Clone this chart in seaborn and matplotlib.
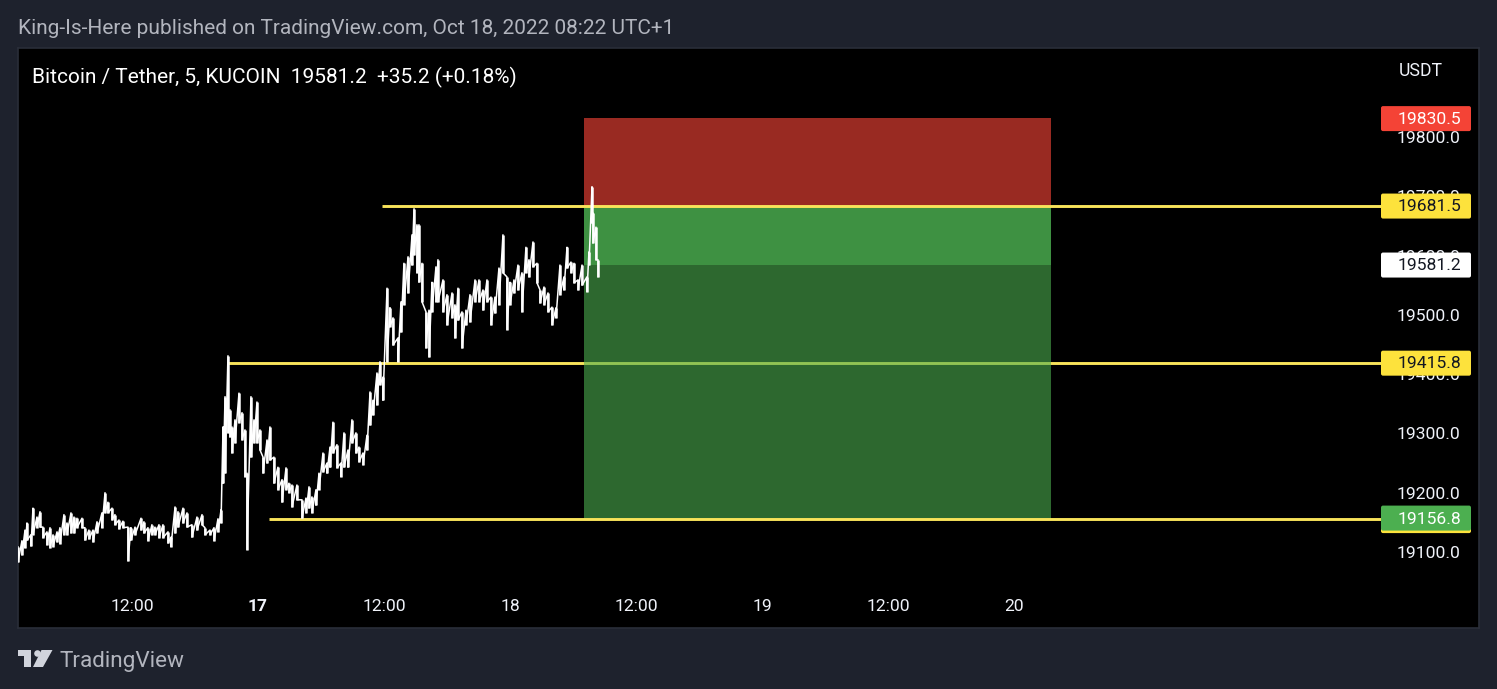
"""
plot.py
BTC/USDT 5m chart with short position box and horizontal levels
"""
import numpy as np
import pandas as pd
import matplotlib
matplotlib.use('Agg')
import matplotlib.pyplot as plt
from matplotlib.patches import FancyBboxPatch, Polygon, Circle, Rectangle
from matplotlib.transforms import IdentityTransform
import seaborn as sns

# hours relative to Oct 17 00:00
HOURS = [-22.86, -22.48, -22.19, -22.0, -21.62, -21.43, -21.05, -20.76, -20.48, -20.1, -19.81, -19.52,
         -19.14, -18.86, -18.48, -18.19, -17.81, -17.52, -17.24, -16.76, -16.48, -16.1, -15.71, -15.33,
         -14.86, -14.57, -14.29, -13.9, -13.62, -13.24, -12.86, -12.38, -12.1, -11.71, -11.14, -10.86,
         -10.48, -10.1, -9.81, -9.43, -9.05, -8.57, -8.29, -7.9, -7.62, -7.14, -6.76, -6.29, -5.81, -5.33,
         -5.05, -4.57, -4.19, -3.81, -3.52, -3.33, -3.14, -2.86, -2.67, -2.48, -2.19, -1.81, -1.52, -1.24,
         -1.05, -0.67, -0.38, -0.1, 0.19, 0.48, 0.86, 1.14, 1.52, 1.9, 2.29, 2.67, 2.95, 3.24, 3.71, 4.19,
         4.57, 4.86, 5.14, 5.52, 5.81, 6.19, 6.57, 6.86, 7.14, 7.52, 7.9, 8.19, 8.57, 8.95, 9.33, 9.62,
         10.0, 10.38, 10.67, 10.95, 11.33, 11.62, 11.9, 12.29, 12.57, 12.86, 13.33, 13.62, 13.9, 14.29,
         14.67, 14.86, 15.14, 15.33, 15.62, 16.0, 16.29, 16.57, 16.95, 17.14, 17.62, 18.0, 18.48, 18.76,
         19.05, 19.43, 19.81, 20.19, 20.67, 21.05, 21.43, 21.81, 22.19, 22.57, 22.95, 23.33, 23.71, 24.0,
         24.38, 24.76, 25.14, 25.52, 25.81, 26.19, 26.57, 26.86, 27.24, 27.62, 28.0, 28.38, 28.76, 29.14,
         29.43, 29.81, 30.1, 30.48, 30.86, 31.33, 31.52, 31.81, 31.9, 32.19, 32.38]
HIGHS = [19109, 19119, 19137, 19149, 19129, 19174, 19159, 19168, 19142, 19134, 19141, 19129,
         19134, 19141, 19163, 19149, 19166, 19159, 19157, 19157, 19141, 19137, 19137, 19151,
         19166, 19200, 19184, 19174, 19163, 19154, 19152, 19142, 19141, 19142, 19157, 19151,
         19141, 19146, 19142, 19146, 19146, 19134, 19125, 19176, 19168, 19174, 19166, 19146, 19159, 19163,
         19141, 19137, 19141, 19156, 19171, 19311, 19362, 19431, 19340, 19311, 19323, 19368, 19335, 19306,
         19233, 19362, 19323, 19353, 19306, 19260, 19289, 19311, 19260, 19243, 19222, 19242, 19216, 19213,
         19213, 19188, 19191, 19210, 19193, 19205, 19233, 19267, 19250, 19277, 19319, 19281, 19250, 19301,
         19272, 19323, 19301, 19277, 19267, 19297, 19370, 19356, 19402, 19421, 19395, 19545, 19512, 19495,
         19461, 19522, 19587, 19598, 19635, 19679, 19652, 19652, 19587, 19505, 19508, 19555, 19581, 19593,
         19559, 19534, 19537, 19517, 19545, 19505, 19508, 19534, 19559, 19559, 19542, 19559, 19530, 19530,
         19579, 19635, 19564, 19555, 19559, 19584, 19571, 19614, 19593, 19623, 19587, 19542, 19547, 19537,
         19513, 19512, 19584, 19564, 19614, 19589, 19587, 19559, 19584, 19564, 19606, 19716, 19672, 19648,
         19593]
LOWS = [19083, 19095, 19107, 19120, 19110, 19129, 19141, 19142, 19124, 19112, 19107, 19109,
        19117, 19114, 19129, 19129, 19132, 19132, 19141, 19141, 19120, 19122, 19117, 19132,
        19141, 19166, 19166, 19154, 19146, 19139, 19141, 19085, 19120, 19129, 19137, 19132,
        19119, 19129, 19129, 19124, 19124, 19115, 19109, 19132, 19142, 19149, 19142, 19125, 19137, 19146,
        19129, 19129, 19119, 19134, 19149, 19216, 19233, 19301, 19294, 19267, 19284, 19318, 19289, 19227,
        19104, 19260, 19284, 19284, 19272, 19233, 19250, 19255, 19216, 19205, 19184, 19205, 19200, 19176,
        19188, 19157, 19166, 19174, 19166, 19179, 19205, 19235, 19233, 19243, 19267, 19242, 19227, 19243,
        19243, 19284, 19267, 19252, 19247, 19272, 19314, 19331, 19348, 19382, 19356, 19421, 19480, 19449,
        19421, 19471, 19517, 19537, 19584, 19601, 19571, 19555, 19522, 19444, 19429, 19505, 19522, 19522,
        19505, 19483, 19495, 19461, 19491, 19444, 19483, 19488, 19522, 19522, 19508, 19522, 19483, 19503,
        19517, 19571, 19475, 19517, 19537, 19542, 19505, 19571, 19564, 19581, 19554, 19520, 19517, 19505,
        19483, 19495, 19534, 19542, 19579, 19571, 19554, 19542, 19550, 19539, 19584, 19655, 19621, 19593,
        19564]

Y_TICKS = [19100.0, 19200.0, 19300.0, 19400.0, 19500.0, 19600.0, 19700.0, 19800.0]
X_TICKS = [-12, 0, 12, 24, 36, 48, 60, 72]
X_LABELS = ['12:00', '17', '12:00', '18', '12:00', '19', '12:00', '20']

# label values as printed on the tags
STOP = 19830.5
ENTRY = 19681.5
LAST = 19581.2
MID = 19415.8
TARGET = 19156.8
# the tags and lines do not sit exactly on the tick scale in the picture, so read their heights too
STOP_Y = 19831.0
ENTRY_Y = 19683.5
LAST_Y = 19584.0
MID_Y = 19418.5
TARGET_Y = 19155.5
BOX_START, BOX_END = 31.05, 75.52

BG = '#1e222d'
YELLOW_LINE = '#f8e35a'

sns.set_theme(style='dark', rc={'axes.facecolor': 'black', 'figure.facecolor': BG})
plt.rcParams['font.family'] = ['Roboto', 'DejaVu Sans']

W, H = 1497, 689
fig = plt.figure(figsize=(W / 100, H / 100), dpi=100)
# pane is px 18-1479 / 48-628
ax = fig.add_axes([18 / W, 1 - 628 / H, 1461 / W, 580 / H])
ax.set_xlim(-22.857, 116.286)
ax.set_ylim(18971.8, 19950.1)

# ---- position box ----
ax.fill_between([BOX_START, BOX_END], ENTRY_Y, STOP_Y + 1, color='#f44336', alpha=0.63, lw=0, zorder=3)
ax.fill_between([BOX_START, BOX_END], LAST_Y, ENTRY_Y, color='#4caf50', alpha=0.83, lw=0, zorder=3)
ax.fill_between([BOX_START, BOX_END], TARGET_Y, LAST_Y, color='#4caf50', alpha=0.6, lw=0, zorder=3)

# ---- levels, the middle one sits under the box ----
ax.hlines(MID_Y, -2.86, 107, color=YELLOW_LINE, lw=2.1, zorder=2)
ax.hlines(ENTRY_Y, 11.81, 107, color=YELLOW_LINE, lw=2.1, zorder=4)
ax.hlines(TARGET_Y, 1.05, 107, color=YELLOW_LINE, lw=2.1, zorder=4)

# ---- price trace: high/low zigzag ----
zigzag = pd.DataFrame({
    'hours': np.repeat(HOURS, 2),
    'price': np.column_stack([HIGHS, LOWS]).ravel(),
})
sns.lineplot(data=zigzag, x='hours', y='price', estimator=None, sort=False,
             color='white', lw=1.1, ax=ax, zorder=4.5)
ax.vlines(HOURS, LOWS, HIGHS, color='white', lw=1.8, zorder=4.5)

# ---- axes ----
ax.set_xlabel(''); ax.set_ylabel('')
ax.grid(False)
ax.set_xticks(X_TICKS, X_LABELS)
ax.yaxis.tick_right()
ax.set_yticks(Y_TICKS, [f'{v:.1f}' for v in Y_TICKS])
ax.tick_params(axis='x', direction='in', length=0, pad=-21, labelsize=12.6, colors='#f0f3fa')
ax.tick_params(axis='y', direction='in', length=0, pad=-59, labelsize=12.6, colors='#f0f3fa')
ax.get_xticklabels()[1].set_fontweight('bold')
for s in ax.spines.values():
    s.set_color('#2a2e39'); s.set_linewidth(1.2)


def price_tag(level_y, value, face, text_color, drop=0.0):
    ypx = ax.transData.transform((0, level_y))[1]
    tag = FancyBboxPatch((1381, ypx - 12.5 + drop), 90, 25, boxstyle='round,pad=0,rounding_size=2',
                         fc=face, ec='none', transform=IdentityTransform(), zorder=5)
    ax.add_patch(tag)
    tag.set_clip_on(False)
    if value is not None:
        ax.text(1397.5, ypx - 0.5, f'{value:.1f}', color=text_color, fontsize=12.6, va='center', ha='left',
                transform=IdentityTransform(), zorder=6)


price_tag(STOP_Y, STOP, '#f44336', 'white')
price_tag(ENTRY_Y, ENTRY, '#fde23c', '#131722')
price_tag(LAST_Y, LAST, 'white', '#131722')
price_tag(MID_Y, MID, '#fde23c', '#131722')
# yellow tag peeks out under the green one
price_tag(TARGET_Y, None, '#fde23c', '#131722', drop=-1.5)
price_tag(TARGET_Y, TARGET, '#4caf50', 'white', drop=1)

# ---- header / footer text ----
fig.text(18 / W, 1 - 29 / H, 'King-Is-Here published on TradingView.com, Oct 18, 2022 08:22 UTC+1',
         color='#b2b5be', fontsize=15.0, va='center')
fig.text(32 / W, 1 - 77 / H, 'Bitcoin / Tether, 5, KUCOIN  19581.2  +35.2 (+0.18%)',
         color='white', fontsize=15.0, va='center')
fig.text(1399 / W, 1 - 71 / H, 'USDT', color='#f0f3fa', fontsize=12.7, va='center')
fig.text(59 / W, 1 - 661 / H, 'TradingView', color='#b2b5be', fontsize=16.2, va='center')

# logo
LOGO = '#d1d4dc'
def px(x, y):
    return (x, H - y)
fig.add_artist(Rectangle(px(17.5, 656), 13.5, 6, fc=LOGO, ec='none', transform=IdentityTransform()))
fig.add_artist(Rectangle(px(24, 667), 7, 11, fc=LOGO, ec='none', transform=IdentityTransform()))
fig.add_artist(Circle(px(37.5, 653.5), 3.3, fc=LOGO, ec='none', transform=IdentityTransform()))
fig.add_artist(Polygon([px(41.5, 650), px(52.5, 650), px(43, 667), px(33, 667)], closed=True, fc=LOGO,
                       ec='none', transform=IdentityTransform()))

fig.savefig('out.png', dpi=100, facecolor=BG)
